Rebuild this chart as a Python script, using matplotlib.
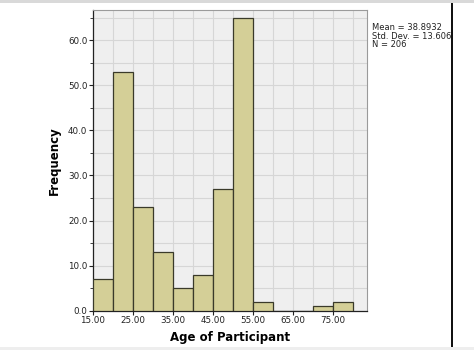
import numpy as np
import matplotlib
matplotlib.use("Agg")
import matplotlib.pyplot as plt
from matplotlib.ticker import FixedLocator, MultipleLocator, FormatStrFormatter

# histogram bins (left edges, width 5) and counts
bin_left = [15, 20, 25, 30, 35, 40, 45, 50, 55, 60, 65, 70, 75]
counts = [7, 53, 23, 13, 5, 8, 27, 65, 2, 0, 0, 1, 2]
bin_width = 5
x_ticks = [15, 25, 35, 45, 55, 65, 75]
stats_text = "Mean = 38.8932\nStd. Dev. = 13.606\nN = 206"

fig = plt.figure(figsize=(4.74, 3.5), dpi=100)
fig.patch.set_facecolor("white")

ax = fig.add_axes([93 / 474, 1 - 310.7 / 350, (366.7 - 93) / 474, (310.7 - 10) / 350])
ax.set_facecolor("#efefef")

ax.bar(bin_left, counts, width=bin_width, align="edge",
       color="#d4cf97", edgecolor="#3a3a2a", linewidth=0.9, zorder=3)

ax.set_xlim(15, 15 + (366.7 - 93) / 4.0)
ax.set_ylim(0, 66.7)

ax.xaxis.set_major_locator(FixedLocator(x_ticks))
ax.xaxis.set_minor_locator(MultipleLocator(5))
ax.yaxis.set_major_locator(MultipleLocator(10))
ax.yaxis.set_minor_locator(MultipleLocator(5))
ax.xaxis.set_major_formatter(FormatStrFormatter("%.2f"))
ax.yaxis.set_major_formatter(FormatStrFormatter("%.1f"))

ax.grid(True, which="both", color="#d6d6d6", linewidth=0.8, zorder=0)
ax.set_axisbelow(True)

for s in ["top", "right"]:
    ax.spines[s].set_color("#9a9a9a")
    ax.spines[s].set_linewidth(0.8)
for s in ["left", "bottom"]:
    ax.spines[s].set_color("#222222")
    ax.spines[s].set_linewidth(0.9)

ax.tick_params(axis="both", which="major", direction="out", length=3, width=0.8,
               labelsize=6.3, pad=1, colors="#222222")
ax.tick_params(axis="both", which="minor", direction="out", length=2, width=0.6,
               colors="#222222")
ax.tick_params(axis="x", which="minor", length=0)

ax.set_xlabel("Age of Participant", fontsize=8.5, fontweight="bold", labelpad=4)
ax.set_ylabel("Frequency", fontsize=8.5, fontweight="bold", labelpad=5)

fig.text(372 / 474, 1 - 23 / 350, stats_text, fontsize=6, va="top", ha="left",
         linespacing=0.95, color="#222222")

# frame pieces of the screenshot
fig.add_artist(plt.Rectangle((0, 1 - 3 / 350), 1, 3 / 350, transform=fig.transFigure,
                             color="#d9d9d9", lw=0))
fig.add_artist(plt.Rectangle((0, 0), 1, 3 / 350, transform=fig.transFigure,
                             color="#eeeeee", lw=0))
fig.add_artist(plt.Rectangle((451 / 474, 3 / 350), 2 / 474, 344 / 350,
                             transform=fig.transFigure, color="#111111", lw=0))
fig.add_artist(plt.Rectangle((453 / 474, 3 / 350), 21 / 474, 344 / 350,
                             transform=fig.transFigure, color="white", lw=0))

fig.savefig("out.png", dpi=100)
